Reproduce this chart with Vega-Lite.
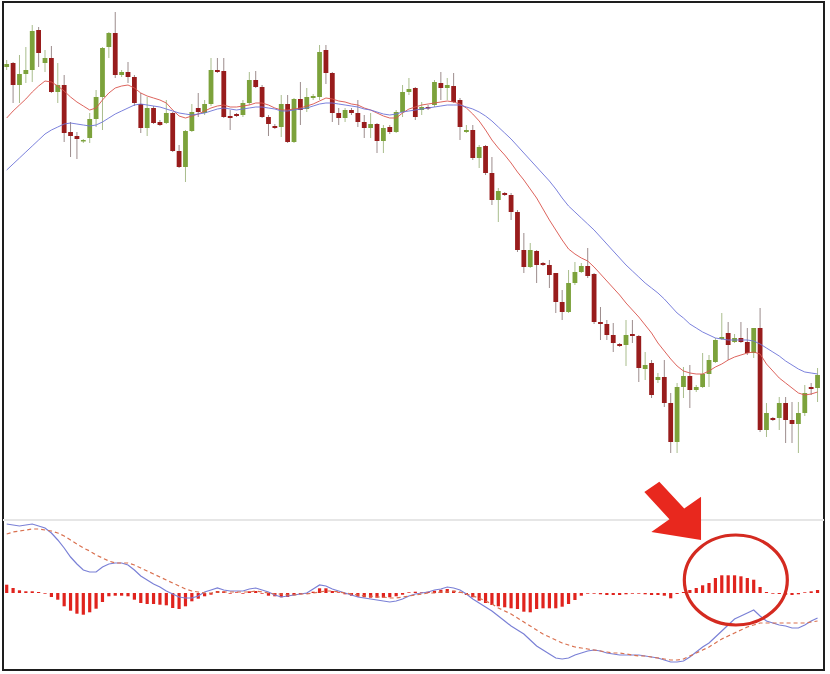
{
  "$schema": "https://vega.github.io/schema/vega-lite/v6.json",
  "width": 830,
  "height": 674,
  "autosize": {"type": "fit", "contains": "padding"},
  "padding": {"left": 2, "top": 2, "right": 5, "bottom": 4},
  "background": "white",
  "config": {"view": {"stroke": "#1e1e1e", "strokeWidth": 2, "fill": "white"}},
  "datasets": {
    "bars": [
    {"i":0,"o":433,"h":440,"l":430,"c":436,"ef":382,"es":330,"macd":69,"sig":59,"hist":8.3},
    {"i":1,"o":437,"h":438,"l":397,"c":415,"ef":389,"es":336,"macd":68,"sig":61,"hist":5},
    {"i":2,"o":415,"h":445,"l":397,"c":426,"ef":395,"es":342,"macd":67,"sig":62,"hist":2.7},
    {"i":3,"o":426,"h":453,"l":417,"c":430,"ef":401,"es":348,"macd":68,"sig":63,"hist":1.7},
    {"i":4,"o":430,"h":475,"l":418,"c":469,"ef":408,"es":354,"macd":69,"sig":64,"hist":1.7},
    {"i":5,"o":470,"h":473,"l":433,"c":447,"ef":414,"es":360,"macd":67,"sig":64,"hist":1},
    {"i":6,"o":437,"h":450,"l":428,"c":442,"ef":419,"es":366,"macd":65,"sig":63,"hist":-0.7},
    {"i":7,"o":442,"h":454,"l":407,"c":408,"ef":418,"es":370,"macd":60,"sig":62,"hist":-4},
    {"i":8,"o":408,"h":437,"l":397,"c":415,"ef":414,"es":373,"macd":53,"sig":60,"hist":-6.7},
    {"i":9,"o":415,"h":425,"l":358,"c":367,"ef":409,"es":376,"macd":45,"sig":57,"hist":-13.3},
    {"i":10,"o":368,"h":378,"l":343,"c":364,"ef":403,"es":377,"macd":36,"sig":53,"hist":-17.7},
    {"i":11,"o":364,"h":368,"l":341,"c":361,"ef":398,"es":376,"macd":29,"sig":49,"hist":-20.7},
    {"i":12,"o":358.5,"h":361,"l":357,"c":360,"ef":394,"es":375,"macd":23,"sig":45,"hist":-21.7},
    {"i":13,"o":362,"h":387,"l":357,"c":381,"ef":390,"es":374,"macd":21,"sig":42,"hist":-19.3},
    {"i":14,"o":381,"h":410,"l":373,"c":403,"ef":392,"es":375,"macd":21,"sig":38,"hist":-15.7},
    {"i":15,"o":403,"h":453,"l":370,"c":452,"ef":400,"es":378,"macd":26,"sig":35,"hist":-9},
    {"i":16,"o":453,"h":468,"l":442,"c":467,"ef":407,"es":382,"macd":29,"sig":32,"hist":-3.3},
    {"i":17,"o":467,"h":488,"l":422,"c":425,"ef":412,"es":386,"macd":30,"sig":30,"hist":-2.7},
    {"i":18,"o":425,"h":430,"l":423,"c":428,"ef":414,"es":389,"macd":30,"sig":30,"hist":-2.7},
    {"i":19,"o":428,"h":438,"l":417,"c":423,"ef":415,"es":392,"macd":28,"sig":30,"hist":-3.3},
    {"i":20,"o":423,"h":425,"l":394,"c":397,"ef":412,"es":395,"macd":23,"sig":28,"hist":-6.7},
    {"i":21,"o":396,"h":407,"l":367,"c":372,"ef":407,"es":396,"macd":17,"sig":25,"hist":-10},
    {"i":22,"o":372,"h":403,"l":364,"c":392,"ef":404,"es":395,"macd":13,"sig":22,"hist":-11},
    {"i":23,"o":392,"h":394,"l":376,"c":377,"ef":402,"es":394,"macd":9,"sig":19,"hist":-11},
    {"i":24,"o":378,"h":380,"l":374,"c":375,"ef":400,"es":393,"macd":6,"sig":16,"hist":-11.7},
    {"i":25,"o":377,"h":400,"l":376,"c":387,"ef":397,"es":391,"macd":2,"sig":13,"hist":-12.3},
    {"i":26,"o":387,"h":388,"l":348,"c":349,"ef":390,"es":389,"macd":-1,"sig":10,"hist":-15},
    {"i":27,"o":349,"h":355,"l":332,"c":333,"ef":384,"es":387,"macd":-4,"sig":7,"hist":-16},
    {"i":28,"o":333,"h":370,"l":318,"c":369,"ef":382,"es":386,"macd":-5,"sig":4,"hist":-13.3},
    {"i":29,"o":369,"h":396,"l":368,"c":388,"ef":384,"es":385,"macd":-5,"sig":2,"hist":-8.3},
    {"i":30,"o":392,"h":407,"l":383,"c":388,"ef":386,"es":386,"macd":-3,"sig":1,"hist":-5.7},
    {"i":31,"o":387,"h":400,"l":385,"c":396,"ef":389,"es":387,"macd":1,"sig":0,"hist":-3.3},
    {"i":32,"o":396,"h":442,"l":394,"c":430,"ef":392,"es":389,"macd":3,"sig":0,"hist":-1.7},
    {"i":33,"o":430,"h":442,"l":427,"c":428,"ef":394,"es":391,"macd":5,"sig":1,"hist":2},
    {"i":34,"o":429,"h":442,"l":382,"c":383,"ef":395,"es":392,"macd":3,"sig":1,"hist":1.7},
    {"i":35,"o":384,"h":390,"l":370,"c":382,"ef":393,"es":391,"macd":2,"sig":1,"hist":-0.7},
    {"i":36,"o":386,"h":387,"l":383,"c":384,"ef":393,"es":390,"macd":2,"sig":1,"hist":0.7},
    {"i":37,"o":385,"h":400,"l":383,"c":397,"ef":394,"es":391,"macd":2,"sig":1,"hist":-0.7},
    {"i":38,"o":397,"h":428,"l":395,"c":420,"ef":395,"es":392,"macd":4,"sig":1,"hist":1.7},
    {"i":39,"o":420,"h":429,"l":412,"c":413,"ef":397,"es":393,"macd":5,"sig":2,"hist":2},
    {"i":40,"o":413,"h":415,"l":382,"c":383,"ef":397,"es":393,"macd":3,"sig":1,"hist":-0.7},
    {"i":41,"o":383,"h":385,"l":364,"c":376,"ef":395,"es":392,"macd":1,"sig":0,"hist":-2.7},
    {"i":42,"o":374,"h":376,"l":371,"c":372,"ef":392,"es":391,"macd":-2,"sig":-1,"hist":-3.3},
    {"i":43,"o":373,"h":405,"l":363,"c":396,"ef":390,"es":389,"macd":-4,"sig":-1,"hist":-4.3},
    {"i":44,"o":396,"h":405,"l":357,"c":358,"ef":390,"es":389,"macd":-3,"sig":-2,"hist":-4},
    {"i":45,"o":358,"h":402,"l":357,"c":401,"ef":391,"es":390,"macd":-2,"sig":-2,"hist":-2.3},
    {"i":46,"o":401,"h":418,"l":375,"c":390,"ef":392,"es":391,"macd":-1,"sig":-1,"hist":-1.3},
    {"i":47,"o":391,"h":412,"l":388,"c":403,"ef":394,"es":392,"macd":0,"sig":-1,"hist":-0.7},
    {"i":48,"o":402,"h":406,"l":400,"c":404,"ef":396,"es":394,"macd":4,"sig":0,"hist":1.3},
    {"i":49,"o":403,"h":455,"l":400,"c":448,"ef":399,"es":396,"macd":8,"sig":1,"hist":4.7},
    {"i":50,"o":450,"h":455,"l":416,"c":427,"ef":402,"es":397,"macd":7,"sig":2,"hist":4.7},
    {"i":51,"o":427,"h":428,"l":378,"c":387,"ef":401,"es":397,"macd":4,"sig":2,"hist":2},
    {"i":52,"o":387,"h":392,"l":375,"c":382,"ef":399,"es":396,"macd":2,"sig":1,"hist":0.7},
    {"i":53,"o":382,"h":392,"l":378,"c":390,"ef":398,"es":395,"macd":0,"sig":0,"hist":-1.3},
    {"i":54,"o":390,"h":392,"l":385,"c":387,"ef":396,"es":394,"macd":-2,"sig":-1,"hist":-2.7},
    {"i":55,"o":387,"h":400,"l":373,"c":378,"ef":395,"es":393,"macd":-4,"sig":-2,"hist":-3.7},
    {"i":56,"o":378,"h":385,"l":362,"c":372,"ef":392,"es":391,"macd":-5,"sig":-3,"hist":-4.3},
    {"i":57,"o":372,"h":387,"l":362,"c":376,"ef":390,"es":390,"macd":-6,"sig":-3,"hist":-4.7},
    {"i":58,"o":376,"h":377,"l":347,"c":359,"ef":387,"es":388,"macd":-7,"sig":-4,"hist":-4.7},
    {"i":59,"o":359,"h":375,"l":347,"c":372,"ef":384,"es":386,"macd":-8,"sig":-4,"hist":-4.7},
    {"i":60,"o":373,"h":375,"l":366,"c":368,"ef":382,"es":385,"macd":-9,"sig":-5,"hist":-4.3},
    {"i":61,"o":368,"h":390,"l":367,"c":388,"ef":382,"es":386,"macd":-8,"sig":-5,"hist":-3.3},
    {"i":62,"o":388,"h":415,"l":383,"c":408,"ef":387,"es":388,"macd":-6,"sig":-4,"hist":-1.7},
    {"i":63,"o":408,"h":422,"l":405,"c":411,"ef":391,"es":389,"macd":-3,"sig":-3,"hist":0.7},
    {"i":64,"o":412,"h":413,"l":380,"c":383,"ef":393,"es":390,"macd":-1,"sig":-2,"hist":1.3},
    {"i":65,"o":390,"h":398,"l":385,"c":393,"ef":395,"es":391,"macd":0,"sig":-1,"hist":0.7},
    {"i":66,"o":393,"h":395,"l":390,"c":391.5,"ef":396,"es":392,"macd":1,"sig":0,"hist":1.3},
    {"i":67,"o":395,"h":420,"l":393,"c":418,"ef":397,"es":393,"macd":3,"sig":0,"hist":2.3},
    {"i":68,"o":417,"h":428,"l":400,"c":412,"ef":398,"es":394,"macd":4,"sig":1,"hist":3.3},
    {"i":69,"o":412,"h":422,"l":400,"c":415,"ef":399,"es":395,"macd":6,"sig":1,"hist":4},
    {"i":70,"o":414,"h":427,"l":397,"c":398,"ef":398,"es":395,"macd":5,"sig":2,"hist":2.3},
    {"i":71,"o":400,"h":402,"l":360,"c":373,"ef":396,"es":395,"macd":3,"sig":1,"hist":0.7},
    {"i":72,"o":368,"h":375,"l":367,"c":370,"ef":392,"es":393,"macd":-1,"sig":-1,"hist":-2},
    {"i":73,"o":370,"h":375,"l":340,"c":342,"ef":386,"es":391,"macd":-6,"sig":-3,"hist":-4.3},
    {"i":74,"o":342,"h":355,"l":332,"c":353,"ef":379,"es":388,"macd":-10,"sig":-5,"hist":-7.7},
    {"i":75,"o":354,"h":355,"l":325,"c":327,"ef":370,"es":384,"macd":-14,"sig":-8,"hist":-10},
    {"i":76,"o":327,"h":343,"l":295,"c":300,"ef":360,"es":379,"macd":-18,"sig":-11,"hist":-12},
    {"i":77,"o":300,"h":312,"l":278,"c":309,"ef":352,"es":373,"macd":-23,"sig":-15,"hist":-13.3},
    {"i":78,"o":307,"h":308,"l":304,"c":305,"ef":345,"es":367,"macd":-28,"sig":-18,"hist":-14.3},
    {"i":79,"o":305,"h":307,"l":280,"c":288,"ef":337,"es":361,"macd":-33,"sig":-21,"hist":-15.3},
    {"i":80,"o":288,"h":290,"l":248,"c":250,"ef":328,"es":354,"macd":-37,"sig":-25,"hist":-16},
    {"i":81,"o":250,"h":267,"l":227,"c":233,"ef":320,"es":347,"macd":-41,"sig":-29,"hist":-18.7},
    {"i":82,"o":233,"h":257,"l":232,"c":250,"ef":311,"es":340,"macd":-47,"sig":-33,"hist":-19.3},
    {"i":83,"o":249,"h":250,"l":217,"c":235,"ef":302,"es":333,"macd":-53,"sig":-37,"hist":-16},
    {"i":84,"o":237,"h":238,"l":234,"c":235,"ef":291,"es":326,"macd":-57,"sig":-41,"hist":-15.3},
    {"i":85,"o":235,"h":240,"l":212,"c":225,"ef":280,"es":319,"macd":-61,"sig":-44,"hist":-15.3},
    {"i":86,"o":227,"h":227,"l":187,"c":198,"ef":270,"es":311,"macd":-65,"sig":-47,"hist":-15.3},
    {"i":87,"o":198,"h":210,"l":180,"c":188,"ef":260,"es":302,"macd":-66,"sig":-50,"hist":-13.7},
    {"i":88,"o":188,"h":230,"l":187,"c":217,"ef":251,"es":294,"macd":-65,"sig":-52,"hist":-11},
    {"i":89,"o":217,"h":238,"l":215,"c":228,"ef":246,"es":288,"macd":-62,"sig":-54,"hist":-7},
    {"i":90,"o":228,"h":237,"l":227,"c":234,"ef":242,"es":282,"macd":-60,"sig":-55,"hist":-2.7},
    {"i":91,"o":234,"h":252,"l":222,"c":224,"ef":239,"es":276,"macd":-58,"sig":-56,"hist":-0.7},
    {"i":92,"o":226,"h":227,"l":176,"c":178,"ef":233,"es":270,"macd":-57,"sig":-57,"hist":-0.7},
    {"i":93,"o":178,"h":193,"l":160,"c":176,"ef":226,"es":263,"macd":-58,"sig":-58,"hist":-1.3},
    {"i":94,"o":176,"h":180,"l":160,"c":165,"ef":219,"es":256,"macd":-60,"sig":-59,"hist":-2},
    {"i":95,"o":165,"h":177,"l":148,"c":157,"ef":212,"es":249,"macd":-61,"sig":-60,"hist":-2},
    {"i":96,"o":156,"h":157,"l":153,"c":154,"ef":205,"es":242,"macd":-62,"sig":-60,"hist":-2},
    {"i":97,"o":155,"h":180,"l":134,"c":165,"ef":197,"es":235,"macd":-62,"sig":-61,"hist":-1.3},
    {"i":98,"o":166,"h":180,"l":157,"c":164,"ef":190,"es":229,"macd":-62,"sig":-62,"hist":-0.7},
    {"i":99,"o":164,"h":165,"l":118,"c":132,"ef":183,"es":223,"macd":-62,"sig":-63,"hist":-0.7},
    {"i":100,"o":131,"h":148,"l":120,"c":135,"ef":175,"es":217,"macd":-63,"sig":-63,"hist":-1.3},
    {"i":101,"o":137,"h":140,"l":102,"c":105,"ef":167,"es":212,"macd":-64,"sig":-64,"hist":-2},
    {"i":102,"o":120,"h":127,"l":117,"c":123,"ef":157,"es":207,"macd":-65,"sig":-65,"hist":-2},
    {"i":103,"o":123,"h":140,"l":93,"c":97,"ef":149,"es":201,"macd":-67,"sig":-66,"hist":-2.7},
    {"i":104,"o":97,"h":107,"l":47,"c":58,"ef":141,"es":194,"macd":-69,"sig":-67,"hist":-5.3},
    {"i":105,"o":58,"h":117,"l":47,"c":113,"ef":134,"es":187,"macd":-69,"sig":-67,"hist":-1},
    {"i":106,"o":113,"h":133,"l":102,"c":124,"ef":129,"es":182,"macd":-68,"sig":-66,"hist":1},
    {"i":107,"o":124,"h":135,"l":92,"c":110,"ef":127,"es":176,"macd":-64,"sig":-63,"hist":3},
    {"i":108,"o":110,"h":115,"l":108,"c":113,"ef":126,"es":172,"macd":-59,"sig":-60,"hist":5},
    {"i":109,"o":113,"h":147,"l":112,"c":126,"ef":126,"es":168,"macd":-54,"sig":-57,"hist":7.7},
    {"i":110,"o":126,"h":145,"l":113,"c":140,"ef":129,"es":165,"macd":-50,"sig":-54,"hist":10},
    {"i":111,"o":138,"h":162,"l":137,"c":160,"ef":133,"es":162,"macd":-44,"sig":-50,"hist":15},
    {"i":112,"o":161,"h":187,"l":160,"c":163,"ef":136,"es":161,"macd":-38,"sig":-46,"hist":17.7},
    {"i":113,"o":167,"h":178,"l":140,"c":155,"ef":140,"es":160,"macd":-32,"sig":-43,"hist":17.7},
    {"i":114,"o":158,"h":166,"l":157,"c":162,"ef":143,"es":160,"macd":-26,"sig":-40,"hist":17.7},
    {"i":115,"o":162,"h":178,"l":157,"c":158,"ef":145,"es":160,"macd":-23,"sig":-37,"hist":16.7},
    {"i":116,"o":158,"h":172,"l":145,"c":147,"ef":147,"es":160,"macd":-20,"sig":-34,"hist":15},
    {"i":117,"o":147,"h":172,"l":142,"c":172,"ef":148,"es":159,"macd":-17,"sig":-32,"hist":13.3},
    {"i":118,"o":172,"h":192,"l":68,"c":70,"ef":146,"es":156,"macd":-23,"sig":-30,"hist":6},
    {"i":119,"o":70,"h":97,"l":63,"c":87,"ef":136,"es":152,"macd":-28,"sig":-30,"hist":1},
    {"i":120,"o":82,"h":83,"l":79,"c":80,"ef":129,"es":148,"macd":-30,"sig":-30,"hist":-0.7},
    {"i":121,"o":82,"h":103,"l":70,"c":97,"ef":122,"es":144,"macd":-32,"sig":-30,"hist":-1},
    {"i":122,"o":97,"h":103,"l":57,"c":80,"ef":117,"es":139,"macd":-33,"sig":-30,"hist":-1.7},
    {"i":123,"o":80,"h":98,"l":57,"c":76,"ef":112,"es":135,"macd":-35,"sig":-30,"hist":-2},
    {"i":124,"o":76,"h":98,"l":47,"c":87,"ef":107,"es":131,"macd":-35,"sig":-30,"hist":-1.3},
    {"i":125,"o":87,"h":115,"l":84,"c":107,"ef":105,"es":128,"macd":-32,"sig":-30,"hist":0.7},
    {"i":126,"o":113,"h":117,"l":105,"c":111,"ef":106,"es":127,"macd":-28,"sig":-29,"hist":1.7},
    {"i":127,"o":112,"h":132,"l":98,"c":125,"ef":108,"es":126,"macd":-25,"sig":-28,"hist":3}
    ],
    "notes": [
      {"note": "circle", "i": 114.2, "m": 13},
      {"note": "arrow", "i": 108.75, "m": 53}
    ]
  },
  "data": {"name": "bars"},
  "layer": [
    {
      "layer": [
        {
          "mark": {"type": "rule", "color": "#e6e6e6", "strokeWidth": 1.5},
          "encoding": {
            "y": {"datum": -20, "type": "quantitative", "axis": null,
                  "scale": {"domain": [-170, 498], "nice": false, "zero": false}}
          }
        },
        {
          "mark": {"type": "rule", "strokeWidth": 1},
          "encoding": {
            "x": {"field": "i", "type": "quantitative", "axis": null,
                  "scale": {"domain": [-0.58, 128.01], "nice": false, "zero": false}},
            "y": {"field": "l", "type": "quantitative", "axis": null,
                  "scale": {"domain": [-170, 498], "nice": false, "zero": false}},
            "y2": {"field": "h"},
            "color": {"condition": {"test": "datum.c >= datum.o", "value": "#a9bd8c"}, "value": "#9c8c8c"}
          }
        },
        {
          "mark": {"type": "rule", "strokeWidth": 4.8},
          "encoding": {
            "x": {"field": "i", "type": "quantitative", "axis": null,
                  "scale": {"domain": [-0.58, 128.01], "nice": false, "zero": false}},
            "y": {"field": "o", "type": "quantitative", "axis": null,
                  "scale": {"domain": [-170, 498], "nice": false, "zero": false}},
            "y2": {"field": "c"},
            "color": {"condition": {"test": "datum.c >= datum.o", "value": "#7ca23b"}, "value": "#981c1c"}
          }
        },
        {
          "mark": {"type": "line", "color": "#d9534b", "strokeWidth": 1, "opacity": 0.9},
          "encoding": {
            "x": {"field": "i", "type": "quantitative", "axis": null,
                  "scale": {"domain": [-0.58, 128.01], "nice": false, "zero": false}},
            "y": {"field": "ef", "type": "quantitative", "axis": null,
                  "scale": {"domain": [-170, 498], "nice": false, "zero": false}}
          }
        },
        {
          "mark": {"type": "line", "color": "#6d73d8", "strokeWidth": 1, "opacity": 0.9},
          "encoding": {
            "x": {"field": "i", "type": "quantitative", "axis": null,
                  "scale": {"domain": [-0.58, 128.01], "nice": false, "zero": false}},
            "y": {"field": "es", "type": "quantitative", "axis": null,
                  "scale": {"domain": [-170, 498], "nice": false, "zero": false}}
          }
        }
      ]
    },
    {
      "layer": [
        {
          "mark": {"type": "rule", "strokeWidth": 3.2, "color": "#e0231d"},
          "encoding": {
            "x": {"field": "i", "type": "quantitative", "axis": null,
                  "scale": {"domain": [-0.58, 128.01], "nice": false, "zero": false}},
            "y": {"field": "hist", "type": "quantitative", "axis": null,
                  "scale": {"domain": [-77, 591], "nice": false, "zero": false}},
            "y2": {"datum": 0}
          }
        },
        {
          "mark": {"type": "line", "color": "#7a80d6", "strokeWidth": 1.2},
          "encoding": {
            "x": {"field": "i", "type": "quantitative", "axis": null,
                  "scale": {"domain": [-0.58, 128.01], "nice": false, "zero": false}},
            "y": {"field": "macd", "type": "quantitative", "axis": null,
                  "scale": {"domain": [-77, 591], "nice": false, "zero": false}}
          }
        },
        {
          "mark": {"type": "line", "color": "#d9704f", "strokeWidth": 1.2, "strokeDash": [4, 3]},
          "encoding": {
            "x": {"field": "i", "type": "quantitative", "axis": null,
                  "scale": {"domain": [-0.58, 128.01], "nice": false, "zero": false}},
            "y": {"field": "sig", "type": "quantitative", "axis": null,
                  "scale": {"domain": [-77, 591], "nice": false, "zero": false}}
          }
        },
        {
          "data": {"name": "notes"},
          "transform": [{"filter": "datum.note === 'circle'"}],
          "mark": {"type": "point", "filled": false, "size": 4, "opacity": 1,
                   "stroke": "#d42a20", "strokeWidth": 3.2,
                   "shape": "M 51.5 0 C 51.5 24.85 28.44 45 0 45 C -28.44 45 -51.5 24.85 -51.5 0 C -51.5 -24.85 -28.44 -45 0 -45 C 28.44 -45 51.5 -24.85 51.5 0 Z"},
          "encoding": {
            "x": {"field": "i", "type": "quantitative", "axis": null,
                  "scale": {"domain": [-0.58, 128.01], "nice": false, "zero": false}},
            "y": {"field": "m", "type": "quantitative", "axis": null,
                  "scale": {"domain": [-77, 591], "nice": false, "zero": false}}
          }
        },
        {
          "data": {"name": "notes"},
          "transform": [{"filter": "datum.note === 'arrow'"}],
          "mark": {"type": "point", "filled": true, "size": 4, "opacity": 1,
                   "fill": "#e8281e", "strokeWidth": 0,
                   "shape": "M -56.7 -48 L -41.7 -58.3 L -16.8 -31.4 L 0 -43.3 L 0 0 L -49.7 -8 L -31.6 -20.8 Z"},
          "encoding": {
            "x": {"field": "i", "type": "quantitative", "axis": null,
                  "scale": {"domain": [-0.58, 128.01], "nice": false, "zero": false}},
            "y": {"field": "m", "type": "quantitative", "axis": null,
                  "scale": {"domain": [-77, 591], "nice": false, "zero": false}}
          }
        }
      ]
    }
  ],
  "resolve": {"scale": {"y": "independent"}}
}
